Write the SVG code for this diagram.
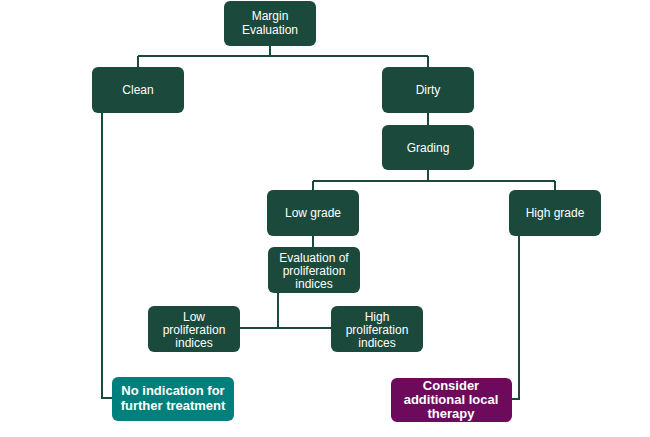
<svg xmlns="http://www.w3.org/2000/svg" width="650" height="437" viewBox="0 0 650 437">
<style>
.n{fill:#1b4a3c}
.t{font-family:"Liberation Sans",Arial,sans-serif;font-size:12px;fill:#fff;text-anchor:middle}
.b{font-weight:bold;font-size:13px}
.c{fill:none;stroke:#1b4a3c;stroke-width:2}
</style>
<rect width="650" height="437" fill="#fff"/>
<g id="connectors">
<path class="c" d="M270 46V56M138 56H428M138 56V67M428 56V67M428 113V125M428 170V181M313 181H555M313 181V190M555 181V190M313 236V247M278 293V328M240 328H331M102 113V398H112M519 236V399H512"/>
</g>
<g id="margin"><rect class="n" x="224" y="1" width="92" height="45" rx="6"/><text class="t" x="270" y="20">Margin</text><text class="t" x="270" y="34">Evaluation</text></g>
<g id="clean"><rect class="n" x="92" y="67" width="92" height="46" rx="6"/><text class="t" x="138" y="94">Clean</text></g>
<g id="dirty"><rect class="n" x="382" y="67" width="92" height="46" rx="6"/><text class="t" x="428" y="94">Dirty</text></g>
<g id="grading"><rect class="n" x="382" y="125" width="92" height="45" rx="6"/><text class="t" x="428" y="152">Grading</text></g>
<g id="lowgrade"><rect class="n" x="267" y="190" width="92" height="46" rx="6"/><text class="t" x="313" y="217">Low grade</text></g>
<g id="highgrade"><rect class="n" x="509" y="190" width="92" height="46" rx="6"/><text class="t" x="555" y="217">High grade</text></g>
<g id="evaluation"><rect class="n" x="268" y="247" width="92" height="46" rx="6"/><text class="t" x="314" y="262">Evaluation of</text><text class="t" x="314" y="275">proliferation</text><text class="t" x="314" y="288">indices</text></g>
<g id="lowprolif"><rect class="n" x="148" y="306" width="92" height="46" rx="6"/><text class="t" x="194" y="321">Low</text><text class="t" x="194" y="334">proliferation</text><text class="t" x="194" y="347">indices</text></g>
<g id="highprolif"><rect class="n" x="331" y="306" width="92" height="46" rx="6"/><text class="t" x="377" y="321">High</text><text class="t" x="377" y="334">proliferation</text><text class="t" x="377" y="347">indices</text></g>
<g id="noindication"><rect x="112" y="377" width="122" height="44" rx="6" fill="#00807c"/><text class="t b" x="173" y="395">No indication for</text><text class="t b" x="173" y="410">further treatment</text></g>
<g id="consider"><rect x="391" y="378" width="121" height="44" rx="6" fill="#6e0a5c"/><text class="t b" x="451" y="390">Consider</text><text class="t b" x="451" y="404">additional local</text><text class="t b" x="451" y="418">therapy</text></g>
</svg>
